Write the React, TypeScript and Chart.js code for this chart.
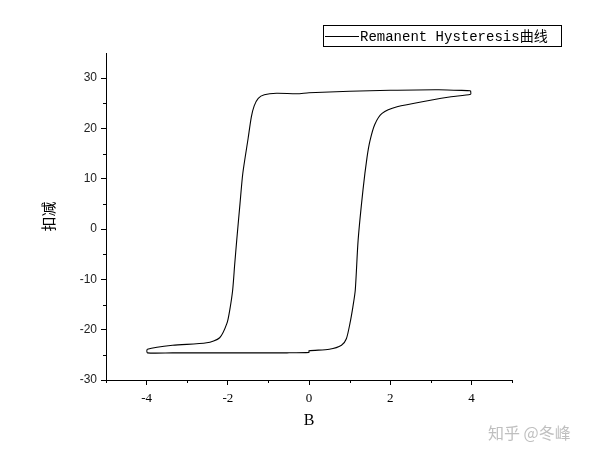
import React, { useEffect, useRef } from "react";
import { Chart, registerables } from "chart.js";

Chart.register(...registerables);

// Remanent hysteresis loop, traced around the loop (B, 扣减)
const loopB: number[] = [
  3.98, 3.2, 2.0, 1.0, 0.0, -0.3, -0.8, -1.1, -1.25, -1.35, -1.42, -1.5, -1.63, -1.7, -1.78, -1.83, -1.88,
  -1.95, -2.02, -2.2, -2.52, -3.36, -3.98, -3.98, -3.36, -2.0, -0.54, 0.0, 0.0, 0.5, 0.8, 0.92, 1.01, 1.08,
  1.14, 1.21, 1.33, 1.43, 1.5, 1.62, 1.8, 2.17, 2.99, 3.5, 3.98, 3.98,
];
const loopValue: number[] = [
  27.5, 27.7, 27.6, 27.4, 27.1, 26.9, 27.0, 26.7, 26.0, 24.5, 22.3, 18.0, 11.1, 5.0, -2.2, -7.0, -12.1,
  -16.0, -18.7, -21.6, -22.6, -23.1, -23.9, -24.6, -24.6, -24.6, -24.6, -24.5, -24.2, -23.9, -23.1, -21.8,
  -18.7, -15.5, -12.1, -2.2, 7.8, 14.3, 17.5, 20.8, 23.0, 24.3, 25.6, 26.3, 26.8, 27.5,
];
const xMajorTicks: number[] = [-4, -2, 0, 2, 4];
const xMinorTicks: number[] = [-5, -3, -1, 1, 3, 5];
const yMajorTicks: number[] = [-30, -20, -10, 0, 10, 20, 30];
const yMinorTicks: number[] = [-25, -15, -5, 5, 15, 25];
const seriesLabel = "Remanent Hysteresis曲线";
const xTitle = "B";
const yTitle = "扣减";
const watermark = "知乎 @冬峰";

const decorPlugin = {
  id: "decor",
  afterDraw(chart: any) {
    const ctx = chart.ctx;
    const xs = chart.scales.x;
    const ys = chart.scales.y;
    const area = chart.chartArea;
    ctx.save();
    ctx.strokeStyle = "#000";
    ctx.lineWidth = 1;
    ctx.beginPath();
    xMinorTicks.forEach((v) => {
      const px = Math.round(xs.getPixelForValue(v)) + 0.5;
      ctx.moveTo(px, area.bottom);
      ctx.lineTo(px, area.bottom + 3);
    });
    yMinorTicks.forEach((v) => {
      const py = Math.round(ys.getPixelForValue(v)) + 0.5;
      ctx.moveTo(area.left, py);
      ctx.lineTo(area.left - 3, py);
    });
    ctx.stroke();

    // legend box
    ctx.strokeRect(323.5, 25.5, 238, 21);
    ctx.beginPath();
    ctx.moveTo(325, 36.5);
    ctx.lineTo(359, 36.5);
    ctx.stroke();
    ctx.fillStyle = "#000";
    ctx.font = '14px "Liberation Mono", "Noto Sans CJK SC", monospace';
    ctx.textBaseline = "middle";
    ctx.textAlign = "left";
    ctx.fillText(seriesLabel, 360, 37);

    // watermark
    ctx.fillStyle = "rgba(170,170,170,0.75)";
    ctx.font = '16px "Noto Sans CJK SC", sans-serif';
    ctx.fillText(watermark, 488, 433);
    ctx.restore();
  },
};

export default function App() {
  const ref = useRef<HTMLCanvasElement | null>(null);
  useEffect(() => {
    document.body.style.margin = "0";
    const points = loopB.map((b, i) => ({ x: b, y: loopValue[i] }));
    const chart = new Chart(ref.current as HTMLCanvasElement, {
      type: "scatter",
      data: {
        datasets: [
          {
            label: seriesLabel,
            data: points,
            showLine: true,
            borderColor: "#000",
            backgroundColor: "#000",
            borderWidth: 1.1,
            pointRadius: 0,
            tension: 0.25,
          },
        ],
      },
      options: {
        animation: false,
        responsive: false,
        layout: { padding: { left: 0, right: 86, top: 53, bottom: 0 } },
        plugins: { legend: { display: false }, tooltip: { enabled: false } },
        scales: {
          x: {
            type: "linear",
            min: -5,
            max: 5,
            afterBuildTicks: (s: any) => {
              s.ticks = xMajorTicks.map((v) => ({ value: v }));
            },
            afterFit: (s: any) => {
              s.height = 78;
            },
            border: { display: true, color: "#000", width: 1 },
            grid: { drawOnChartArea: false, tickLength: 5, color: "#000", tickColor: "#000" },
            ticks: {
              color: "#000",
              padding: 6,
              font: { family: '"Liberation Serif", serif', size: 13 },
            },
            title: {
              display: true,
              text: xTitle,
              color: "#000",
              font: { family: '"Liberation Serif", serif', size: 16 },
              padding: { top: 0, bottom: 28 },
            },
          },
          y: {
            type: "linear",
            min: -30,
            max: 35,
            afterBuildTicks: (s: any) => {
              s.ticks = yMajorTicks.map((v) => ({ value: v }));
            },
            afterFit: (s: any) => {
              s.width = 106;
            },
            border: { display: true, color: "#000", width: 1 },
            grid: { drawOnChartArea: false, tickLength: 5, color: "#000", tickColor: "#000" },
            ticks: {
              color: "#222",
              padding: 4,
              font: { family: '"Liberation Sans", Arial, sans-serif', size: 12 },
            },
            title: {
              display: true,
              text: yTitle,
              color: "#000",
              font: { family: '"Noto Sans CJK SC", sans-serif', size: 15 },
              padding: { top: 39, bottom: 0 },
            },
          },
        },
      },
      plugins: [decorPlugin],
    });
    return () => chart.destroy();
  }, []);
  return (
    <div style={{ width: 598, height: 458, background: "#fff" }}>
      <canvas ref={ref} width={598} height={458} style={{ display: "block" }} />
    </div>
  );
}
